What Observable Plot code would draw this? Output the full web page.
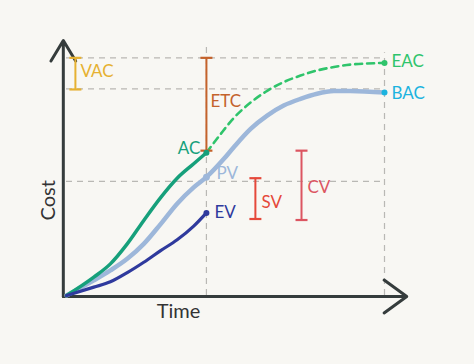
<!DOCTYPE html>
<html><head><meta charset="utf-8">
<script src="https://cdn.jsdelivr.net/npm/d3@7"></script>
<script src="https://cdn.jsdelivr.net/npm/@observablehq/plot@0.6"></script>
<style>html,body{margin:0;padding:0;background:#f8f7f3;overflow:hidden}</style>
</head><body><div id="chart"></div>
<script>
// ---- data (time units, cost units) ----
const statusTime = 4.4;
const endTime = 10;

const acTime  = [0, 0.86, 1.38, 1.91, 2.43, 2.96, 3.48, 4.0, 4.4];
const acCost  = [0, 9, 15.5, 25.3, 36.8, 48, 57.5, 64.6, 70];

const eacTime = [4.4, 4.84, 5.26, 5.79, 6.31, 6.83, 7.36, 7.88, 8.41, 8.93, 10];
const eacCost = [70, 79, 87, 94.6, 100.3, 104.6, 107.8, 110.3, 112, 113.2, 114];

const pvTime  = [0, 0.86, 1.38, 1.91, 2.43, 2.96, 3.48, 4.0, 4.4, 4.95, 5.26, 5.79, 6.31, 6.83, 7.36, 7.88, 8.41, 8.93, 10];
const pvCost  = [0, 7.4, 12.3, 18, 25.3, 35, 45, 53, 58, 67, 72.7, 81.7, 88.2, 93.1, 96.4, 98.9, 100.2, 100.3, 99.5];

const evTime  = [0, 0.86, 1.38, 1.91, 2.43, 2.96, 3.48, 4.0, 4.4];
const evCost  = [0, 4.1, 6.7, 11.2, 16.3, 22, 27.3, 34, 40.5];

const pointNames = ["AC", "PV", "EV", "EAC", "BAC"];
const pointTimes = [4.4, 4.4, 4.4, 10, 10];
const pointCosts = [70, 58, 40.5, 114, 99.5];

const bracketNames = ["VAC", "ETC", "SV", "CV"];
const bracketTimes = [0.28, 4.4, 5.94, 7.39];
const bracketLows  = [101, 71, 37.5, 37];
const bracketHighs = [116.5, 116.5, 57.5, 71];

const gridLevels = [116.5, 101.3, 55.9];
const gridTimes  = [4.4, 10];
const gridTops   = [124, 119];

const axisTimeMin = -0.1, axisTimeMax = 10.7, axisCostMin = -0.5, axisCostMax = 125;

// ---- styles ----
const colors = {
  AC: "#16a07b", EAC: "#2fc46b", PV: "#9db7da", BAC: "#1bb3df", EV: "#2f3a9d",
  VAC: "#e6b131", ETC: "#c4622b", SV: "#e5483a", CV: "#dc5561"
};
const axisColor = "#353c3c";
const font = "Lato, 'Open Sans', sans-serif";

const zip = (t, c) => t.map((x, i) => ({t: x, c: c[i]}));
const ac = zip(acTime, acCost), eac = zip(eacTime, eacCost), pv = zip(pvTime, pvCost), ev = zip(evTime, evCost);
const points = pointNames.map((n, i) => ({name: n, t: pointTimes[i], c: pointCosts[i]}));
const brackets = bracketNames.map((n, i) => ({name: n, t: bracketTimes[i], lo: bracketLows[i], hi: bracketHighs[i]}));
const caps = brackets.flatMap(b => [{name: b.name, t: b.t, c: b.lo}, {name: b.name, t: b.t, c: b.hi}]);

const capSymbol = {draw(ctx, size) { const w = Math.sqrt(size / Math.PI); ctx.moveTo(-w, 0); ctx.lineTo(w, 0); }};

const labelOffsets = {
  AC: {dx: -6, dy: -4, anchor: "end"}, PV: {dx: 10, dy: -4, anchor: "start"}, EV: {dx: 8, dy: 0, anchor: "start"},
  EAC: {dx: 7, dy: -1, anchor: "start"}, BAC: {dx: 7, dy: 1, anchor: "start"}
};
const bracketLabelOffsets = {VAC: {dx: 5, dy: -2}, ETC: {dx: 4, dy: -3}, SV: {dx: 6, dy: 4}, CV: {dx: 6, dy: 2}};

const pointLabels = points.map(p => Plot.text([p], {
  x: "t", y: "c", text: "name", fill: colors[p.name], fontSize: 17, fontFamily: font,
  dx: labelOffsets[p.name].dx, dy: labelOffsets[p.name].dy, textAnchor: labelOffsets[p.name].anchor
}));
const bracketLabels = brackets.map(b => Plot.text([b], {
  x: "t", y: d => (d.lo + d.hi) / 2, text: "name", fill: colors[b.name], fontSize: 17, fontFamily: font,
  dx: bracketLabelOffsets[b.name].dx, dy: bracketLabelOffsets[b.name].dy, textAnchor: "start"
}));

const grid = {stroke: "#b9b8b4", strokeWidth: 1.2, strokeDasharray: "6,5"};

const chart = Plot.plot({
  width: 474, height: 364,
  marginLeft: 66, marginRight: 90, marginTop: 91, marginBottom: 69,
  x: {domain: [0, endTime], axis: null},
  y: {domain: [0, 100], axis: null},
  color: {type: "identity"},
  clip: false,
  style: {background: "#f8f7f3", overflow: "visible"},
  marks: [
    Plot.ruleY(gridLevels, {y: d => d, x1: 0, x2: endTime, ...grid}),
    Plot.ruleX(gridTimes.map((t, i) => ({t, top: gridTops[i]})), {x: "t", y1: 0, y2: "top", ...grid}),
    Plot.arrow([{x1: axisTimeMin, y1: axisCostMin, x2: axisTimeMin, y2: axisCostMax}],
      {x1: "x1", y1: "y1", x2: "x2", y2: "y2", stroke: axisColor, strokeWidth: 3, headLength: 12, headAngle: 62}),
    Plot.arrow([{x1: axisTimeMin, y1: axisCostMin, x2: axisTimeMax, y2: axisCostMin}],
      {x1: "x1", y1: "y1", x2: "x2", y2: "y2", stroke: axisColor, strokeWidth: 3, headLength: 14, headAngle: 72}),
    Plot.line(eac, {x: "t", y: "c", stroke: colors.EAC, strokeWidth: 2.6, strokeDasharray: "7,5", curve: "monotone-x"}),
    Plot.line(pv, {x: "t", y: "c", stroke: colors.PV, strokeWidth: 4.5, curve: "monotone-x"}),
    Plot.line(ac, {x: "t", y: "c", stroke: colors.AC, strokeWidth: 3.5, curve: "monotone-x"}),
    Plot.line(ev, {x: "t", y: "c", stroke: colors.EV, strokeWidth: 3.2, curve: "monotone-x"}),
    Plot.ruleX(brackets, {x: "t", y1: "lo", y2: "hi", stroke: d => colors[d.name], strokeWidth: 2}),
    Plot.dot(caps, {x: "t", y: "c", symbol: capSymbol, r: 6, stroke: d => colors[d.name], strokeWidth: 2.2}),
    Plot.dot(points, {x: "t", y: "c", r: d => d.name === "PV" ? 5.5 : 4.2, fill: d => colors[d.name], stroke: "none"}),
    ...pointLabels,
    ...bracketLabels,
    Plot.text(["Time"], {frameAnchor: "bottom", dx: -47, dy: 22, fill: "#333", fontSize: 20, fontFamily: font}),
    Plot.text(["Cost"], {frameAnchor: "left", dx: -18, dy: 27, rotate: -90, fill: "#333", fontSize: 20, fontFamily: font})
  ]
});
document.getElementById("chart").appendChild(chart);
</script>
</body></html>
